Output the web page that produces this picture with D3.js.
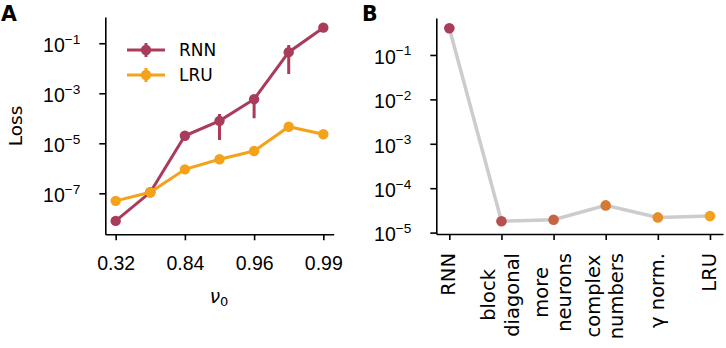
<!DOCTYPE html>
<html>
<head>
<meta charset="utf-8">
<script src="https://cdn.jsdelivr.net/npm/d3@7"></script>
<style>
  body { margin: 0; background: #fff; }
  svg { font-family: "DejaVu Sans", sans-serif; }
  .axis path, .axis line { stroke: #000; stroke-width: 1.6; }
</style>
</head>
<body>
<div id="chart"></div>
<script>
// ---- data ----
const nuLabels = ["0.32", "", "0.84", "", "0.96", "", "0.99"];
const rnnLoss = [7.9e-9, 1.1e-7, 2.0e-5, 7.9e-5, 5.8e-4, 4.4e-2, 0.42];
const rnnLow  = [7.9e-9, 1.1e-7, 2.0e-5, 1.35e-5, 1.0e-4, 5.9e-3, 0.42];
const rnnHigh = [7.9e-9, 1.1e-7, 2.0e-5, 1.48e-4, 7.2e-4, 8.5e-2, 0.42];
const lruLoss = [5.0e-8, 1.1e-7, 9.1e-7, 2.3e-6, 4.9e-6, 4.6e-5, 2.3e-5];

const ablationNames = [["RNN"], ["block", "diagonal"], ["more", "neurons"], ["complex", "numbers"], ["γ norm."], ["LRU"]];
const ablationLoss = [0.40, 1.8e-5, 1.95e-5, 4.1e-5, 2.2e-5, 2.35e-5];

const tickExpA = [-1, -3, -5, -7];
const tickExpB = [-1, -2, -3, -4, -5];

const rnnColor = "#a83c5a";
const lruColor = "#f5a21b";
const fontSize = 19.5;

const width = 726, height = 348;
const svg = d3.select("#chart").append("svg")
    .attr("width", width)
    .attr("height", height);

// log tick labels as 10^n
const drawPowerLabels = (g, exps) => {
    g.selectAll(".tick").each(function (d, i) {
        const t = d3.select(this).select("text")
            .attr("x", -25)
            .attr("dy", "0.43em")
            .attr("text-anchor", "end")
            .style("font-size", fontSize + "px")
            .text("10");
        t.append("tspan")
            .attr("dy", -8.5)
            .style("font-size", (fontSize * 0.7) + "px")
            .text("\u2212" + Math.abs(exps[i]));
    });
};

// ================= Panel A =================
const xA = d3.scaleLinear().domain([-0.3, 6.3]).range([105.3, 333.7]);
const yA = d3.scaleLog().domain([2.3e-9, 1.12]).range([234.3, 17]);

const axisA = svg.append("g");

axisA.append("g")
    .attr("class", "axis")
    .attr("transform", `translate(${xA.range()[0]},0)`)
    .call(d3.axisLeft(yA).tickValues(tickExpA.map(e => Math.pow(10, e))).tickSize(6).tickSizeOuter(0))
    .call(g => drawPowerLabels(g, tickExpA));

const xTicksA = nuLabels.map((l, i) => i).filter(i => nuLabels[i] !== "");
axisA.append("g")
    .attr("class", "axis")
    .attr("transform", `translate(0,${yA.range()[0]})`)
    .call(d3.axisBottom(xA).tickValues(xTicksA).tickFormat(i => nuLabels[i]).tickSize(6).tickSizeOuter(0))
    .call(g => g.selectAll("text").attr("y", 22).style("font-size", fontSize + "px"));

// lines
const lineA = (vals) => d3.line().x((d, i) => xA(i)).y(d => yA(d))(vals);

// RNN error bars
svg.append("g").selectAll("line")
    .data(rnnLoss.map((d, i) => i).filter(i => rnnHigh[i] !== rnnLow[i]))
    .join("line")
    .attr("x1", i => xA(i)).attr("x2", i => xA(i))
    .attr("y1", i => yA(rnnLow[i])).attr("y2", i => yA(rnnHigh[i]))
    .attr("stroke", rnnColor)
    .attr("stroke-width", 3);

[[rnnLoss, rnnColor], [lruLoss, lruColor]].forEach(([vals, color]) => {
    svg.append("path")
        .attr("d", lineA(vals))
        .attr("fill", "none")
        .attr("stroke", color)
        .attr("stroke-width", 3);
    svg.append("g").selectAll("circle")
        .data(vals)
        .join("circle")
        .attr("cx", (d, i) => xA(i))
        .attr("cy", d => yA(d))
        .attr("r", 5.2)
        .attr("fill", color);
});

// legend
const legend = svg.append("g").attr("transform", "translate(127,50)");
[["RNN", rnnColor], ["LRU", lruColor]].forEach(([name, color], i) => {
    const row = legend.append("g").attr("transform", `translate(0,${i * 25})`);
    row.append("line").attr("x1", 0).attr("x2", 38).attr("stroke", color).attr("stroke-width", 3);
    row.append("line").attr("x1", 19).attr("x2", 19).attr("y1", -7).attr("y2", 7)
        .attr("stroke", color).attr("stroke-width", 3);
    row.append("circle").attr("cx", 19).attr("r", 5.2).attr("fill", color);
    row.append("text")
        .attr("x", 52)
        .attr("dy", "0.36em")
        .style("font-size", "17px")
        .text(name);
});

// axis labels
svg.append("text")
    .attr("transform", "translate(22,126) rotate(-90)")
    .attr("text-anchor", "middle")
    .style("font-size", "18.5px")
    .text("Loss");

const nuLabel = svg.append("text")
    .attr("x", 219)
    .attr("y", 303)
    .attr("text-anchor", "middle")
    .style("font-size", "18.5px");
nuLabel.append("tspan").style("font-style", "italic").text("ν");
nuLabel.append("tspan").attr("dy", 3).style("font-size", "13px").text("0");

svg.append("text")
    .attr("x", 1).attr("y", 21)
    .style("font-size", "20.5px").style("font-weight", "bold")
    .text("A");

// ================= Panel B =================
const xB = d3.scaleLinear().domain([-0.25, 5.25]).range([436.3, 723]);
const yB = d3.scaleLog().domain([9.3e-6, 0.68]).range([234, 18]);
const colorB = d3.scaleLinear().domain([0, ablationLoss.length - 1])
    .range([rnnColor, lruColor]).interpolate(d3.interpolateRgb);

svg.append("g")
    .attr("class", "axis")
    .attr("transform", `translate(${xB.range()[0]},0)`)
    .call(d3.axisLeft(yB).tickValues(tickExpB.map(e => Math.pow(10, e))).tickSize(6).tickSizeOuter(0))
    .call(g => drawPowerLabels(g, tickExpB));

const xAxisB = svg.append("g")
    .attr("class", "axis")
    .attr("transform", `translate(0,${yB.range()[0]})`)
    .call(d3.axisBottom(xB).tickValues(d3.range(ablationNames.length)).tickFormat("").tickSize(6).tickSizeOuter(0));

// rotated, multi-line category labels (lines centred on each other, block top-aligned)
const lineGap = fontSize * 1.2;
ablationNames.forEach((lines, i) => {
    const texts = lines.map((ln, j) => svg.append("text")
        .style("font-size", fontSize + "px")
        .attr("text-anchor", "middle")
        .text(ln));
    const maxLen = d3.max(texts, t => t.node().getComputedTextLength());
    texts.forEach((t, j) => {
        const off = 5.7 + (j - (lines.length - 1) / 2) * lineGap;
        t.attr("transform", `translate(${xB(i) + off},${253 + maxLen / 2}) rotate(-90)`);
    });
});

svg.append("path")
    .attr("d", d3.line().x((d, i) => xB(i)).y(d => yB(d))(ablationLoss))
    .attr("fill", "none")
    .attr("stroke", "#cccccc")
    .attr("stroke-width", 3.5);

svg.append("g").selectAll("circle")
    .data(ablationLoss)
    .join("circle")
    .attr("cx", (d, i) => xB(i))
    .attr("cy", d => yB(d))
    .attr("r", 5.3)
    .attr("fill", (d, i) => colorB(i));

svg.append("text")
    .attr("x", 362).attr("y", 21)
    .style("font-size", "20.5px").style("font-weight", "bold")
    .text("B");
</script>
</body>
</html>
